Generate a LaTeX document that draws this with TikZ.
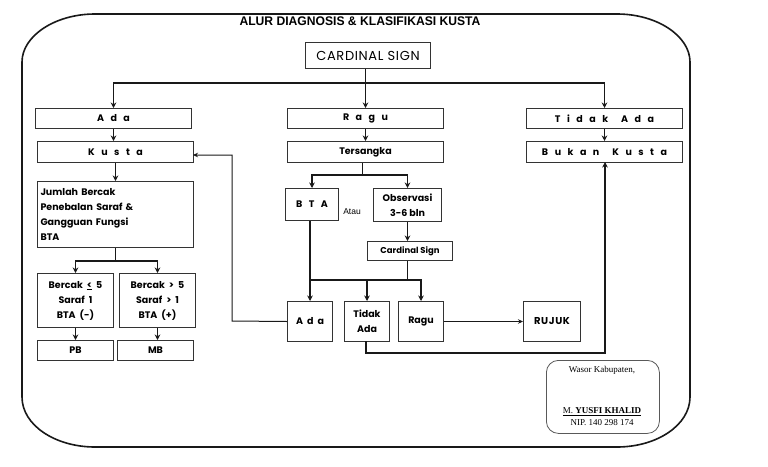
\documentclass[tikz,border=0pt]{standalone}
\usepackage{fontspec}
\setmainfont{Poppins}
\newfontfamily\arialf{Liberation Sans}
\newfontfamily\timesf{Liberation Serif}
\usetikzlibrary{arrows.meta,positioning}
\definecolor{boxline}{gray}{0.2}
\tikzset{
  x=1pt,y=-1pt,
  boxn/.style={draw=boxline,line width=1pt,fill=white,inner sep=0pt,align=center,font=\fontsize{9.5}{15}\selectfont\bfseries},
  conn/.style={draw=black!90,line width=1.6pt,-{Stealth[length=5.5pt,width=5.5pt]}},
  plainline/.style={draw=black!90,line width=1.6pt},
  thinconn/.style={draw=black!90,line width=1pt,-{Stealth[length=5pt,width=4.5pt]}}
}
\newcommand{\gp}{\hspace{6.5pt}}
\newcommand{\bx}[7][]{\node[boxn,#1,minimum width=#5pt-#3pt,minimum height=#6pt-#4pt,anchor=north west] (#2) at (#3,#4) {#7};}
\begin{document}
\begin{tikzpicture}
\useasboundingbox (0,0) rectangle (768,466);
\fill[white] (0,0) rectangle (768,466);
% outer frame
\draw[line width=1.6pt,black!90] (95,14) -- (617,14) .. controls (657,14) and (690,36) .. (690,62)
  -- (690,397) .. controls (690,425) and (657,447) .. (617,447) -- (95,447)
  .. controls (55,447) and (22,425) .. (22,397) -- (22,62) .. controls (22,36) and (55,14) .. (95,14) -- cycle;
\node[font=\arialf\fontsize{12.5}{14}\selectfont\bfseries,inner sep=0pt] (title) at (360,21) {\scalebox{0.97}[1]{ALUR DIAGNOSIS \& KLASIFIKASI KUSTA}};
\bx[font=\fontsize{13}{14}\selectfont\addfontfeature{LetterSpace=5}]{card}{305}{42}{430}{68}{CARDINAL SIGN}
\bx{ada}{35}{108}{191}{128}{A\gp d\gp a}
\bx{kusta}{37}{141}{193}{162}{K\gp u\gp s\gp t\gp a}
\bx[align=left,text width=150pt,font=\fontsize{9.5}{15}\selectfont\bfseries]{jumlah}{37}{181}{193}{247}{Jumlah Bercak\\Penebalan Saraf \&\\Gangguan Fungsi\\BTA}
\bx{b1}{37}{273}{113}{327}{Bercak\ \ \underline{<}\ \ 5\\Saraf\ \ 1\\BTA\ \ (-)}
\bx{b2}{119}{273}{195}{327}{Bercak\ \ >\ \ 5\\Saraf\ \ >\ \ 1\\BTA\ \ (+)}
\bx{pb}{37}{340}{113}{360}{PB}
\bx{mb}{117}{340}{193}{360}{MB}
\bx{ragu}{287}{108}{443}{128}{R\gp a\gp g\gp u}
\bx{ters}{287}{141}{443}{162}{Tersangka}
\bx{bta}{285}{188}{338}{220}{B\gp T\gp A}
\bx{obs}{373}{188}{441}{221}{Observasi\\3-6 bln}
\bx[font=\fontsize{8.5}{15}\selectfont\bfseries]{cs}{367}{241}{452}{260}{Cardinal Sign}
\bx{ada2}{287}{301}{332}{341}{A\hspace{4pt}d\hspace{4pt}a}
\bx{tidak2}{344}{301}{389}{341}{Tidak\\Ada}
\bx{ragu2}{398}{301}{443}{341}{Ragu}
\bx[font=\fontsize{10}{15}\selectfont\bfseries\addfontfeature{LetterSpace=6}]{rujuk}{523}{301}{580}{341}{RUJUK}
\bx{tidak}{526}{108}{682}{128}{T\gp i\gp d\gp a\gp k\gp\gp A\gp d\gp a}
\bx{bukan}{526}{141}{682}{162}{B\gp u\gp k\gp a\gp n\gp\gp K\gp u\gp s\gp t\gp a}
\node[font=\arialf\fontsize{8.5}{10}\selectfont,inner sep=0pt] (atau) at (352,212) {Atau};
\node[draw=black!65,line width=0.8pt,rounded corners=12pt,minimum width=113pt,minimum height=73pt,inner sep=0pt,anchor=north west] (sig) at (546,360) {};
\node[font=\timesf\fontsize{9}{11}\selectfont,inner sep=0pt] (sig1) at (602,370) {Wasor Kabupaten,};
\node[font=\timesf\fontsize{9}{11}\selectfont,inner sep=0pt] (sig2) at (602,412) {\underline{M. \textbf{YUSFI KHALID}}};
\node[font=\timesf\fontsize{9}{11}\selectfont,inner sep=0pt] (sig3) at (602,423) {NIP. 140 298 174};
% helper coordinates
\coordinate (kustaIn) at (193,155);
\coordinate (bukanIn) at (605,162);
\coordinate (tidakOut) at (366,341);
\coordinate (am) at (310,280);
\coordinate (kustaBend) at (232,321);
% connectors
\draw[plainline] (card.south -| ragu.north) -- ++(0,14) coordinate (top);
\draw[conn] (top) -| (ada.north);
\draw[conn] (top) -| (tidak.north);
\draw[conn,line width=1.2pt] (top) -- (ragu.north);
\draw[conn] (ada.south) -- (kusta.north -| ada.south);
\draw[conn] (ragu.south) -- (ters.north);
\draw[conn] (tidak.south) -- (bukan.north);
\draw[conn] (kusta.south) -- (jumlah.north);
\draw[plainline] (jumlah.south) -- ++(0,13) coordinate (jm);
\draw[conn] (jm) -| (b1.north);
\draw[conn] (jm) -| (b2.north);
\draw[conn] (b1.south) -- (pb.north);
\draw[conn] (b2.south) -- (mb.north -| b2.south);
\draw[plainline] (ters.south) ++(-3,0) -- ++(0,12) coordinate (tm);
\draw[conn] (tm) -| (bta.north);
\draw[conn] (tm) -| (obs.north);
\draw[conn] (obs.south) -- (cs.north -| obs.south);
\draw[plainline] (cs.south -| obs.south) -- (am -| obs.south);
\draw[plainline] (bta.south -| am) -- (am) -- (am -| obs.south);
\draw[conn] (am) -- (ada2.north -| am);
\draw[conn] (am -| tidak2.north) -- (tidak2.north);
\draw[conn] (am -| obs.south) -| (ragu2.north);
\draw[thinconn] (ragu2.east) -- (rujuk.west);
\draw[thinconn] (ada2.west) -- (kustaBend) |- (kustaIn);
\draw[conn] (tidakOut) |- (bukanIn |- 0,353) -- (bukanIn);
\end{tikzpicture}
\end{document}
